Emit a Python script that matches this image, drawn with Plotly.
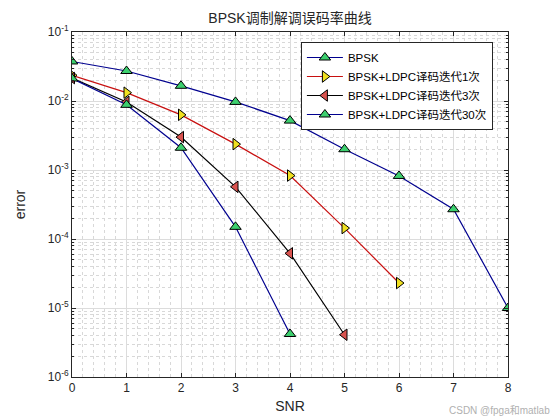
import plotly.graph_objects as go

snr = [0, 1, 2, 3, 4, 5, 6, 7, 8]
ber_bpsk = [0.0374, 0.0272, 0.0166, 0.0097, 0.0052, 0.0020, 0.00082, 0.00027, 1.0e-5]
ber_it1 = [0.0236, 0.0132, 0.0063, 0.00237, 0.00083, 0.000144, 0.000023]
ber_it3 = [0.0215, 0.0097, 0.0030, 0.00057, 0.000062, 0.0000041]
ber_it30 = [0.0212, 0.0088, 0.0021, 0.00015, 0.0000042]

names = ["BPSK", "BPSK+LDPC译码迭代1次", "BPSK+LDPC译码迭代3次", "BPSK+LDPC译码迭代30次"]
ytick_vals = [1e-6, 1e-5, 1e-4, 1e-3, 1e-2, 1e-1]
ytick_text = ["10<sup>-6</sup>", "10<sup>-5</sup>", "10<sup>-4</sup>", "10<sup>-3</sup>", "10<sup>-2</sup>", "10<sup>-1</sup>"]
xtick_vals = [0, 1, 2, 3, 4, 5, 6, 7, 8]
y_minor_vals = [k * 10.0 ** e for e in range(-6, -1) for k in range(2, 10)]
x_minor_vals = [round(i * 0.2, 1) for i in range(41) if i % 5 != 0]

FONT = "Liberation Sans, Arial, Noto Sans CJK SC, sans-serif"

styles = [
    dict(line="#00008f", sym="triangle-up", fill="#3ccf6e"),
    dict(line="#c81010", sym="triangle-right", fill="#f0e020"),
    dict(line="#000000", sym="triangle-left", fill="#d9534f"),
    dict(line="#00008f", sym="triangle-up", fill="#3ccf6e"),
]
series = [ber_bpsk, ber_it1, ber_it3, ber_it30]

fig = go.Figure()
for name, ys, st in zip(names, series, styles):
    fig.add_trace(go.Scatter(
        x=snr[:len(ys)], y=ys, name=name, mode="lines+markers",
        line=dict(color=st["line"], width=1.2),
        marker=dict(symbol=st["sym"], size=10, color=st["fill"],
                    line=dict(color="#000000", width=1)),
    ))

axis_common = dict(
    showline=True, linecolor="#262626", linewidth=1, mirror="ticks",
    ticks="inside", ticklen=4, tickcolor="#262626",
    showgrid=True, gridcolor="#dcdcdc", gridwidth=1,
    tickfont=dict(family=FONT, size=12, color="#262626"),
    zeroline=False, automargin=False,
)

fig.update_xaxes(
    **axis_common, range=[0, 8], tickvals=xtick_vals,
    minor=dict(tickmode="array", tickvals=x_minor_vals, showgrid=True,
               gridcolor="#d8d8d8", griddash="dot", gridwidth=1, ticks=""),
    title=dict(text="SNR", font=dict(family=FONT, size=14, color="#262626"), standoff=6),
)
fig.update_yaxes(
    **axis_common, type="log", range=[-6, -1],
    tickvals=ytick_vals, ticktext=ytick_text,
    minor=dict(tickmode="array", tickvals=y_minor_vals, showgrid=True,
               gridcolor="#d8d8d8", griddash="dot", gridwidth=1,
               ticks="inside", ticklen=2, tickcolor="#262626"),
    title=dict(text="error", font=dict(family=FONT, size=14, color="#262626"), standoff=18),
)

fig.update_layout(
    width=552, height=412,
    margin=dict(l=64, r=52, t=24, b=43),
    paper_bgcolor="white", plot_bgcolor="white",
    font=dict(family=FONT, color="#262626"),
    title=dict(text="BPSK调制解调误码率曲线", x=0.5, xanchor="center", xref="paper",
               y=0.975, yanchor="middle",
               font=dict(family=FONT, size=14, color="#262626")),
    legend=dict(x=0.525, y=0.971, xanchor="left", yanchor="top",
                bgcolor="white", bordercolor="#262626", borderwidth=1,
                font=dict(family=FONT, size=11.5, color="#000000"),
                tracegroupgap=0, itemwidth=36),
    showlegend=True,
)

fig.add_annotation(text="CSDN @fpga和matlab", xref="paper", yref="paper",
                   x=1.10, y=-0.096, xanchor="right", yanchor="middle", showarrow=False,
                   font=dict(family=FONT, size=10, color="#b0b0b0"))

fig.write_html("out.html")
